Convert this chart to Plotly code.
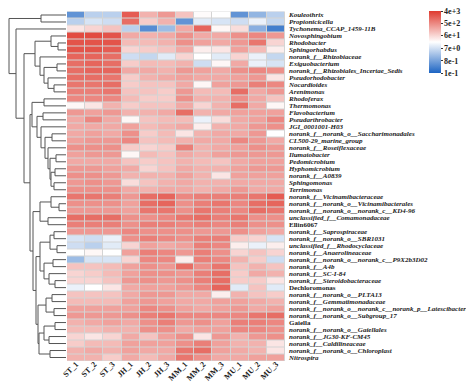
import math
import plotly.graph_objects as go

# ---------------- data ----------------
SAMPLES = ["ST_1", "ST_2", "ST_3", "JH_1", "JH_2", "JH_3",
           "MM_1", "MM_2", "MM_3", "MU_1", "MU_2", "MU_3"]

TAXA = [
    "Kouleothrix", "Propionicicella", "Tychonema_CCAP_1459-11B", "Novosphingobium",
    "Rhodobacter", "Sphingorhabdus", "norank_f__Rhizobiaceae", "Exiguobacterium",
    "norank_f__Rhizobiales_Incertae_Sedis", "Pseudorhodobacter", "Nocardioides",
    "Arenimonas", "Rhodoferax", "Thermomonas", "Flavobacterium", "Pseudarthrobacter",
    "JGI_0001001-H03", "norank_f__norank_o__Saccharimonadales", "CL500-29_marine_group",
    "norank_f__Roseiflexaceae", "Ilumatobacter", "Pedomicrobium", "Hyphomicrobium",
    "norank_f__A0839", "Sphingomonas", "Terrimonas", "norank_f__Vicinamibacteraceae",
    "norank_f__norank_o__Vicinamibacterales", "norank_f__norank_o__norank_c__KD4-96",
    "unclassified_f__Comamonadaceae", "Ellin6067", "norank_f__Saprospiraceae",
    "norank_f__norank_o__SBR1031", "unclassified_f__Rhodocyclaceae",
    "norank_f__Anaerolineaceae", "norank_f__norank_o__norank_c__P9X2b3D02",
    "norank_f__A4b", "norank_f__SC-I-84", "norank_f__Steroidobacteraceae",
    "Dechloromonas", "norank_f__norank_o__PLTA13", "norank_f__Gemmatimonadaceae",
    "norank_f__norank_o__norank_c__norank_p__Latescibacterota",
    "norank_f__norank_o__Subgroup_17", "Gaiella", "norank_f__norank_o__Gaiellales",
    "norank_f__JG30-KF-CM45", "norank_f__Caldilineaceae",
    "norank_f__norank_o__Chloroplast", "Nitrospira",
]
UPRIGHT = {"Ellin6067", "Dechloromonas", "Gaiella"}

# log10 abundance, one triple (replicates 1-3) per taxon, per group
ST = [(-0.3,0.6,0.6),(0.6,0.9,0.8),(1.6,1.8,2.0),(3.4,3.4,3.3),(3.3,3.3,3.3),
      (3.3,3.3,3.2),(3.1,3.1,3.0),(3.0,3.1,3.0),(3.0,3.1,3.1),(3.0,3.0,2.9),
      (2.9,2.9,3.0),(2.8,2.8,2.9),(2.7,2.7,2.7),(1.4,1.6,2.2),(2.5,2.4,2.5),
      (2.3,2.7,2.3),(2.3,2.3,2.3),(2.3,2.4,2.3),(2.4,2.5,2.5),(2.6,2.6,2.6),
      (2.4,2.5,2.5),(2.3,2.3,2.3),(2.5,2.5,2.4),(2.6,2.6,2.5),(2.5,2.6,2.5),
      (2.6,2.6,2.6),(2.9,2.9,2.8),(2.6,2.6,2.6),(2.5,2.5,2.5),(3.0,3.0,3.0),
      (2.8,2.8,2.8),(2.5,2.5,2.5),(0.9,0.8,1.1),(0.8,0.6,1.0),(1.3,1.4,1.3),
      (0.3,0.9,0.9),(2.0,2.0,2.1),(1.8,1.9,2.1),(1.8,1.8,2.0),(1.1,1.3,1.6),
      (2.0,2.0,2.0),(2.1,2.1,2.1),(2.4,2.4,2.4),(2.5,2.5,2.5),(2.2,2.3,2.4),
      (2.1,2.1,2.2),(1.8,1.6,1.8),(1.9,2.1,2.1),(2.2,2.3,2.2),(2.2,2.2,1.9)]
JH = [(3.2,2.2,2.5),(3.0,1.9,2.2),(0.6,-0.4,0.3),(2.3,2.2,2.3),(2.1,2.1,2.2),
      (1.8,1.9,2.0),(0.8,0.7,1.0),(1.9,2.1,2.1),(2.3,2.3,2.2),(1.9,2.2,2.3),
      (1.9,2.0,2.0),(2.0,2.0,1.9),(2.1,1.9,1.9),(1.9,2.0,2.0),(2.2,2.2,2.3),
      (1.4,2.0,2.1),(2.4,2.1,2.2),(2.6,1.9,2.1),(2.7,2.0,2.1),(1.9,1.8,1.9),
      (1.4,2.1,2.0),(2.0,1.9,2.0),(2.3,1.8,2.0),(2.2,2.2,2.2),(1.7,2.0,2.2),
      (2.3,2.2,2.3),(2.5,3.0,3.1),(2.4,3.0,3.1),(2.4,2.9,2.9),(2.6,2.6,2.7),
      (2.6,2.8,2.8),(2.7,2.6,2.6),(2.6,2.8,2.7),(1.8,2.4,2.3),(2.4,2.8,2.7),
      (1.8,2.7,2.7),(2.4,2.6,2.5),(2.4,2.6,2.6),(2.5,2.6,2.5),(2.3,2.4,2.4),
      (2.3,2.5,2.5),(2.4,2.5,2.4),(2.4,2.7,2.6),(2.6,2.8,2.9),(2.3,2.6,2.8),
      (2.2,2.6,2.6),(2.3,2.0,2.4),(2.4,2.4,2.4),(2.4,2.3,2.3),(2.3,2.1,2.3)]
MM = [(2.0,1.35,1.3),(-0.3,1.0,0.9),(2.3,3.1,1.4),(2.6,2.3,2.3),(2.6,2.4,2.3),
      (2.3,1.5,1.6),(1.8,1.3,1.0),(2.2,0.8,1.4),(2.5,2.4,2.3),(2.4,2.3,2.3),
      (2.3,1.4,2.4),(2.5,2.1,2.1),(2.6,2.2,2.2),(2.3,1.8,2.2),(3.0,2.2,2.3),
      (2.1,1.1,1.7),(2.3,1.5,2.2),(1.6,2.2,2.3),(2.2,2.3,2.3),(2.8,2.2,2.3),
      (2.3,2.2,2.4),(2.2,2.1,2.0),(2.3,2.2,2.2),(2.4,2.2,1.6),(2.3,2.2,2.2),
      (2.3,2.2,2.3),(2.7,2.8,2.8),(2.6,2.8,2.9),(2.6,2.9,2.8),(2.9,3.0,2.8),
      (2.7,2.8,2.7),(2.6,2.5,2.5),(2.6,2.8,2.8),(2.4,2.8,2.7),(2.5,2.8,2.6),
      (1.5,2.8,2.7),(3.0,2.6,2.9),(2.5,2.8,3.0),(2.6,2.8,3.0),(2.5,2.7,3.1),
      (2.3,2.3,1.5),(2.3,2.3,2.4),(2.4,2.3,2.4),(2.7,2.7,2.7),(2.5,2.6,2.4),
      (2.3,2.4,2.4),(2.6,1.6,2.5),(2.6,2.8,2.4),(2.9,3.0,2.4),(2.9,2.6,2.3)]
MU = [(-0.3,0.2,0.6),(0.8,1.1,0.7),(1.7,0.1,-0.6),(2.6,2.7,2.5),(2.5,2.9,1.8),
      (2.4,2.1,1.5),(1.8,1.1,0.7),(2.3,1.1,0.9),(2.6,2.7,2.6),(2.4,2.5,1.6),
      (2.5,2.8,2.7),(3.0,2.3,2.5),(2.6,2.3,2.0),(3.0,2.3,1.4),(2.4,2.4,2.4),
      (2.3,2.4,2.7),(2.3,2.5,2.6),(2.3,2.5,1.3),(2.7,2.5,2.3),(2.4,2.6,2.5),
      (2.5,2.5,2.5),(2.3,2.4,2.4),(2.4,2.5,2.5),(2.4,2.4,2.4),(2.3,2.3,2.3),
      (2.5,2.3,2.3),(2.8,2.9,3.2),(2.7,3.0,3.1),(2.7,3.0,2.9),(2.9,2.6,2.6),
      (2.8,2.6,2.6),(2.6,2.4,2.3),(1.9,1.8,0.9),(1.5,1.1,1.5),(1.8,2.0,1.8),
      (2.2,1.9,0.8),(2.0,2.2,2.0),(1.9,2.3,2.2),(1.9,1.9,1.6),(1.0,2.0,1.0),
      (2.2,2.0,1.9),(2.4,2.3,2.2),(2.5,2.3,2.4),(2.7,2.9,3.0),(2.8,2.8,2.7),
      (2.7,2.7,2.6),(2.2,2.5,2.6),(2.2,2.2,1.6),(2.3,2.2,1.6),(2.3,2.4,2.4)]

CBAR_VALUES = [4e3, 5e2, 6e1, 7e0, 8e-1, 1e-1]
CBAR_LABELS = ["4e+3", "5e+2", "6e+1", "7e+0", "8e-1", "1e-1"]
ZMIN, ZMAX = math.log10(0.1), math.log10(4000)

# row dendrogram: (merge distance, left, right); leaves = taxon number (1-based)
ROW_TREE = (57,
    (25, 1, 2),
    (50, 3,
        (42,
            (31,
                (15, 4, (8, 5, 6)),
                (26, 7, (22, (9, 8, 9), (18, 10, (12, 11, 12))))),
            (36,
                (34, (22, 13, 14),
                    (29, (23, 15, 16),
                        (25, 17,
                            (21, (14, 18, 19),
                                (18, 20,
                                    (16, (10, 21, 22),
                                        (15, (11, 23, 24), (12, 25, 26)))))))),
                (33,
                    (26, (15, 27, (7, 28, 29)), (18, 30, 31)),
                    (30,
                        (26, (16, (12, 32, 33), (9, 34, 35)),
                             (22, (13, 36, 37), (17, 38, (11, 39, 40)))),
                        (28, (20, (14, 41, 42), (12, 43, 44)),
                             (27, (22, (11, 45, 46), (17, 47, 48)), (16, 49, 50)))))))))

# ---------------- build ----------------
z = [list(ST[i]) + list(JH[i]) + list(MM[i]) + list(MU[i]) for i in range(len(TAXA))]

seg_x, seg_y = [], []
def walk(node):
    if isinstance(node, int):
        return node - 1, 0.0
    h, left, right = node
    yl, hl = walk(left)
    yr, hr = walk(right)
    seg_x.extend([hl, h, h, hr, None])
    seg_y.extend([yl, yl, yr, yr, None])
    return (yl + yr) / 2.0, h
walk(ROW_TREE)

W, H = 474, 382
HM_X0, HM_X1 = 59 / W, 277 / W
HM_Y0, HM_Y1 = 1 - 353 / H, 1 - 3.5 / H

ticktext = [(t if t in UPRIGHT else "<i>%s</i>" % t) for t in TAXA]

serif = "Liberation Serif"
fig = go.Figure()
fig.add_trace(go.Heatmap(
    z=z, x=list(range(len(SAMPLES))), y=list(range(len(TAXA))),
    zmin=ZMIN, zmax=ZMAX,
    colorscale=[[0.0, "#1c64c3"], [0.5, "#ffffff"], [1.0, "#df3a2f"]],
    xgap=1, ygap=1,
    colorbar=dict(
        x=421 / W, xanchor="left", xpad=0,
        y=1 - 3 / H, yanchor="top", ypad=0,
        len=62 / H, lenmode="fraction", thickness=12, thicknessmode="pixels",
        outlinewidth=0,
        tickvals=[math.log10(v) * 0.9999 for v in CBAR_VALUES], ticktext=CBAR_LABELS,
        ticks="outside", ticklen=2, tickcolor="#333",
        ticklabeloverflow="allow",
        tickfont=dict(family=serif, size=8, color="#222", weight="bold"),
    ),
))
fig.add_trace(go.Scatter(
    x=seg_x, y=seg_y, mode="lines", xaxis="x2", yaxis="y",
    line=dict(color="#555555", width=1), showlegend=False, hoverinfo="skip",
))

fig.update_layout(
    width=W, height=H, margin=dict(l=0, r=0, t=0, b=0),
    paper_bgcolor="white", plot_bgcolor="white",
    xaxis=dict(domain=[HM_X0, HM_X1], range=[-0.5, len(SAMPLES) - 0.5],
               tickvals=list(range(len(SAMPLES))), ticktext=SAMPLES,
               tickangle=-45, showgrid=False, zeroline=False, showline=False,
               ticks="", anchor="y", ticklabelstandoff=-4, automargin=False,
               tickfont=dict(family=serif, size=8, color="#222", weight="bold")),
    yaxis=dict(domain=[HM_Y0, HM_Y1], range=[len(TAXA) - 0.5, -0.5],
               tickvals=list(range(len(TAXA))), ticktext=ticktext,
               side="right", anchor="x", showgrid=False, zeroline=False,
               showline=False, ticks="", ticklabelstandoff=3, automargin=False,
               tickfont=dict(family=serif, size=7, color="#1a1a1a", weight="bold")),
    xaxis2=dict(domain=[0, 58 / W], range=[58, 0], visible=False, anchor="y"),
    shapes=[dict(type="rect", xref="x domain", yref="y domain",
                 x0=0, x1=1, y0=0, y1=1, fillcolor="#d4d4d4",
                 line=dict(width=0), layer="below")],
)

fig.write_html("out.html")
